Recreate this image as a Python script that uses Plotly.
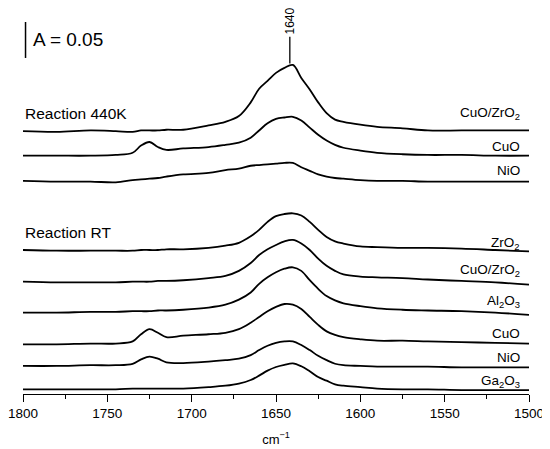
import plotly.graph_objects as go

wavenumber = [1800, 1780, 1760, 1745, 1735, 1730, 1725, 1720, 1715, 1705,
              1690, 1680, 1672, 1665, 1660, 1655, 1650, 1645, 1640, 1635,
              1630, 1625, 1620, 1615, 1610, 1600, 1590, 1575, 1560, 1540,
              1520, 1500]

# absorbance relative to each spectrum's own baseline
cuo_zro2_440 = [0, -0.001, 0.001, 0, -0.001, 0.001, 0.001, 0.001, 0.002, 0.002,
                0.008, 0.013, 0.021, 0.040, 0.059, 0.070, 0.081, 0.088, 0.092, 0.074,
                0.058, 0.040, 0.025, 0.016, 0.013, 0.009, 0.006, 0.004, 0.001, 0.001,
                0.001, 0.001]
cuo_440 = [0, 0, 0, 0.001, 0.004, 0.014, 0.019, 0.012, 0.008, 0.010,
           0.012, 0.015, 0.018, 0.025, 0.035, 0.045, 0.051, 0.053, 0.054, 0.049,
           0.039, 0.029, 0.021, 0.015, 0.011, 0.007, 0.004, 0.002, 0.001, 0.001,
           0, 0]
nio_440 = [0, -0.001, -0.001, -0.002, 0.001, 0.002, 0.003, 0.004, 0.006, 0.009,
           0.011, 0.015, 0.017, 0.021, 0.022, 0.023, 0.024, 0.025, 0.025, 0.019,
           0.014, 0.009, 0.006, 0.004, 0.003, 0.001, 0, 0, -0.001, -0.001,
           -0.001, -0.001]
zro2_rt = [0, -0.001, -0.001, -0.001, -0.001, 0, 0, 0, 0.001, 0.001,
           0.003, 0.006, 0.010, 0.019, 0.028, 0.039, 0.047, 0.050, 0.051, 0.048,
           0.039, 0.028, 0.018, 0.012, 0.009, 0.005, 0.004, 0.003, 0.003, 0.002,
           0, -0.002]
cuo_zro2_rt = [0, -0.001, -0.001, -0.001, 0, 0, 0, 0.001, 0.001, 0.002,
               0.005, 0.008, 0.015, 0.026, 0.037, 0.045, 0.051, 0.056, 0.058, 0.053,
               0.044, 0.032, 0.022, 0.015, 0.010, 0.007, 0.006, 0.005, 0.003, 0.001,
               -0.001, -0.004]
al2o3_rt = [0, 0, 0.001, 0.001, 0.002, 0.002, 0.002, 0.003, 0.003, 0.004,
            0.007, 0.011, 0.018, 0.028, 0.040, 0.049, 0.056, 0.061, 0.063, 0.058,
            0.045, 0.033, 0.023, 0.017, 0.013, 0.009, 0.006, 0.004, 0.003, 0.002,
            0, -0.003]
cuo_rt = [0, 0, 0.001, 0.001, 0.004, 0.014, 0.021, 0.016, 0.010, 0.012,
          0.014, 0.016, 0.021, 0.030, 0.038, 0.046, 0.052, 0.056, 0.055, 0.049,
          0.038, 0.027, 0.018, 0.013, 0.010, 0.007, 0.005, 0.005, 0.004, 0.003,
          0.002, 0.001]
nio_rt = [0, 0, 0.001, 0.001, 0.003, 0.009, 0.013, 0.010, 0.005, 0.004,
          0.006, 0.008, 0.010, 0.015, 0.022, 0.028, 0.032, 0.034, 0.034, 0.029,
          0.022, 0.014, 0.008, 0.003, 0.001, 0, -0.001, -0.001, -0.001, -0.002,
          -0.002, -0.002]
ga2o3_rt = [0, 0, 0, 0, 0.001, 0.001, 0.001, 0.001, 0.001, 0.001,
            0.003, 0.005, 0.008, 0.013, 0.019, 0.026, 0.031, 0.034, 0.036, 0.032,
            0.025, 0.017, 0.012, 0.007, 0.005, 0.003, 0.001, 0, 0, -0.001,
            -0.001, -0.001]

spectra = [cuo_zro2_440, cuo_440, nio_440, zro2_rt, cuo_zro2_rt,
           al2o3_rt, cuo_rt, nio_rt, ga2o3_rt]
names = ["CuO/ZrO<sub>2</sub>", "CuO", "NiO", "ZrO<sub>2</sub>", "CuO/ZrO<sub>2</sub>",
         "Al<sub>2</sub>O<sub>3</sub>", "CuO", "NiO", "Ga<sub>2</sub>O<sub>3</sub>"]
offsets = [0.365, 0.331, 0.296, 0.200, 0.156, 0.113, 0.069, 0.039, 0.0065]
groups = ["Reaction 440K", "Reaction RT"]
tick_vals = [1800, 1750, 1700, 1650, 1600, 1550, 1500]
scale_value = 0.05
peak_pos = 1640

# layout bits (the page body adds an 8px margin round the figure)
label_y = [0.389, 0.344, 0.310, 0.209, 0.172, 0.129, 0.084, 0.051, 0.018]
group_y = [0.390, 0.224]
font = "Liberation Sans, Arial, sans-serif"

fig = go.Figure()
for spec, off, name in zip(spectra, offsets, names):
    fig.add_trace(go.Scatter(
        x=wavenumber, y=[v + off for v in spec], mode="lines", name=name,
        line=dict(color="black", width=1.8, shape="spline", smoothing=1.0),
        showlegend=False, hoverinfo="skip"))

for name, y in zip(names, label_y):
    fig.add_annotation(x=1504, y=y, text=name, showarrow=False,
                       xanchor="right", yanchor="middle",
                       font=dict(family=font, size=13.5, color="black"))

for g, y in zip(groups, group_y):
    fig.add_annotation(x=1800, y=y, text=g, showarrow=False,
                       xanchor="left", yanchor="middle",
                       font=dict(family=font, size=15.5, color="black"))

# scale bar
bar_bottom = 0.4667
fig.add_shape(type="line", x0=1798.5, x1=1798.5, y0=bar_bottom, y1=bar_bottom + scale_value,
              line=dict(color="black", width=1.5))
fig.add_annotation(x=1795, y=bar_bottom + scale_value / 2, text="A = %.2f" % scale_value,
                   showarrow=False, xanchor="left", yanchor="middle",
                   font=dict(family=font, size=19, color="black"))

# peak marker
peak_top = offsets[0] + max(cuo_zro2_440)
fig.add_shape(type="line", x0=peak_pos + 1.8, x1=peak_pos + 1.8, y0=peak_top + 0.002,
              y1=peak_top + 0.039, line=dict(color="black", width=1.3))
fig.add_annotation(x=peak_pos + 1.8, y=peak_top + 0.040, text=str(peak_pos), textangle=-90,
                   showarrow=False, xanchor="center", yanchor="bottom",
                   font=dict(family=font, size=12, color="black"))

fig.update_layout(
    width=542, height=441,
    margin=dict(l=15, r=21, t=0, b=55),
    plot_bgcolor="white", paper_bgcolor="white",
    font=dict(family=font, color="black"),
    xaxis=dict(range=[1800, 1500], tickvals=tick_vals, ticks="outside", ticklen=7,
               tickwidth=1, tickcolor="black", showline=True, linecolor="black",
               linewidth=1, showgrid=False, zeroline=False,
               ticklabeloverflow="allow", automargin=False,
               tickfont=dict(family=font, size=13.5, color="black"),
               minor=dict(dtick=25, ticks="outside", ticklen=4, tickcolor="black",
                          showgrid=False),
               title=dict(text="cm<sup>\u22121</sup>", standoff=14,
                          font=dict(family=font, size=13, color="black"))),
    yaxis=dict(range=[0, 0.5361], visible=False, fixedrange=True),
)

fig.write_html("out.html")
